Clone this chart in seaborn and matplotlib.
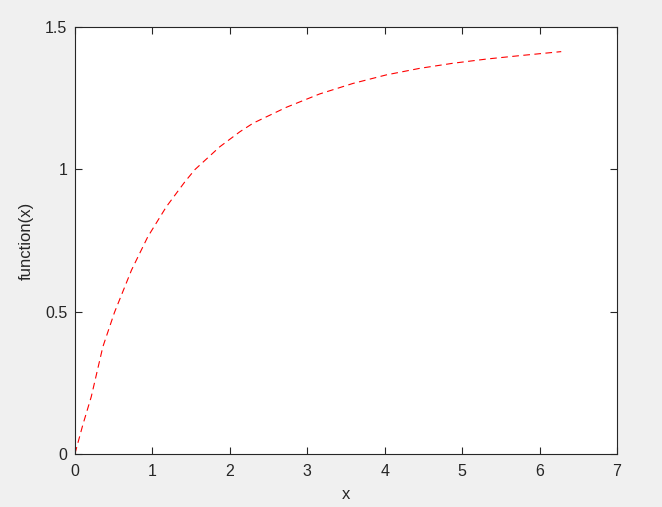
import numpy as np
import pandas as pd
import seaborn as sns
import matplotlib
matplotlib.use("Agg")
import matplotlib.pyplot as plt

# values
x_vals = [0.0, 0.1, 0.21, 0.36, 0.51, 0.73, 0.94, 1.18, 1.42, 1.55, 1.87, 2.13,
          2.30, 2.73, 3.16, 3.59, 4.02, 4.45, 4.88, 5.32, 5.75, 6.28]
y_vals = [0.0, 0.10, 0.20, 0.376, 0.497, 0.646, 0.763, 0.869, 0.957, 1.0, 1.080, 1.133,
          1.163, 1.219, 1.266, 1.303, 1.333, 1.356, 1.374, 1.389, 1.401, 1.415]
x_ticks = [0, 1, 2, 3, 4, 5, 6, 7]
y_ticks = [0, 0.5, 1, 1.5]
y_tick_labels = ["0", "0.5", "1", "1.5"]

df = pd.DataFrame({"x": x_vals, "y": y_vals})

sns.set_theme(style="ticks")
plt.rcParams["font.family"] = ["Liberation Sans", "DejaVu Sans"]
ink = "#262626"

fig = plt.figure(figsize=(6.62, 5.07), dpi=100, facecolor="#f0f0f0")
ax = fig.add_axes([0.1133, 0.1055, 0.8187, 0.8403])
ax.set_facecolor("white")

sns.lineplot(data=df, x="x", y="y", ax=ax, color="red", linewidth=0.8,
             linestyle=(0, (6, 4)), sort=False)

ax.set_xlim(0, 7)
ax.set_ylim(0, 1.5)
ax.set_xticks(x_ticks)
ax.set_yticks(y_ticks)
ax.set_yticklabels(y_tick_labels)
ax.tick_params(direction="in", top=True, right=True, length=5, width=0.8,
               color=ink, labelcolor=ink, labelsize=11.5)
ax.tick_params(axis="x", pad=7.5)
ax.tick_params(axis="y", pad=5.5)
for s in ax.spines.values():
    s.set_color(ink)
    s.set_linewidth(0.8)

ax.set_xlabel("x", fontsize=12, color=ink, labelpad=6)
ax.set_ylabel("function(x)", fontsize=12, color=ink, labelpad=8)

fig.savefig("out.png", dpi=100, facecolor=fig.get_facecolor())
